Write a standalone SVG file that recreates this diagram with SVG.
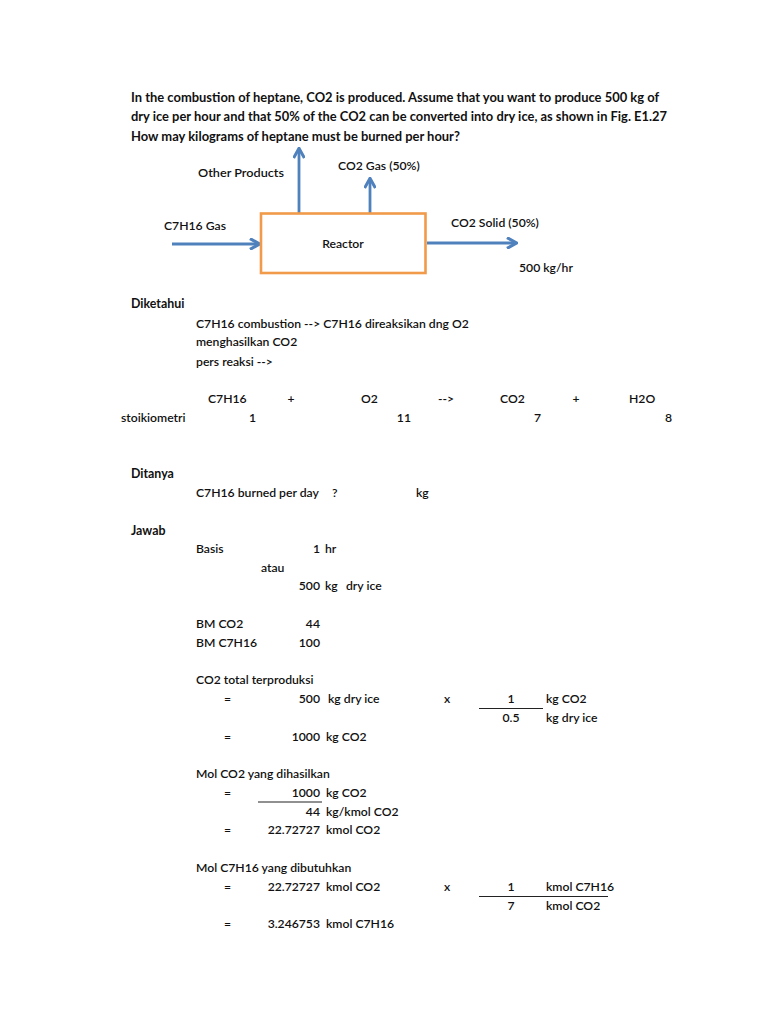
<svg xmlns="http://www.w3.org/2000/svg" width="768" height="1024" viewBox="0 0 768 1024">
<style>
text{font-family:Lato,"Open Sans","Liberation Sans",sans-serif;font-size:12.2px;fill:#111;font-weight:600}
.b{font-weight:700;font-size:12.95px}
.h{font-weight:700;font-size:12.4px}
.e{text-anchor:end}
.m{text-anchor:middle}
.flow{stroke:#4f81bd;stroke-width:2.8;fill:none}
.rule{stroke:#222;stroke-width:1.2}
</style>
<defs>
<marker id="ah" viewBox="0 0 10 10" refX="8.5" refY="5" markerWidth="4.600" markerHeight="4.600" orient="auto" markerUnits="strokeWidth"><path d="M1.500 0.8L9 5L1.500 9.2" fill="none" stroke="#4f81bd" stroke-width="2.400"/></marker>
</defs>
<rect width="768" height="1024" fill="#fff"/>
<g id="problem">
<text class="b" x="131" y="102">In the combustion of heptane, CO2 is produced. Assume that you want to produce 500 kg of</text>
<text class="b" x="131" y="121" textLength="536" lengthAdjust="spacingAndGlyphs">dry ice per hour and that 50% of the CO2 can be converted into dry ice, as shown in Fig. E1.27</text>
<text class="b" x="131" y="141">How may kilograms of heptane must be burned per hour?</text>
</g>
<g id="connectors">
<path class="flow" marker-end="url(#ah)" d="M172 244H259"/>
<path class="flow" marker-end="url(#ah)" d="M427 243H516"/>
<path class="flow" marker-end="url(#ah)" d="M299 213V149"/>
<path class="flow" marker-end="url(#ah)" d="M370 213V179"/>
</g>
<g id="reactor">
<rect x="261" y="213.500" width="164.500" height="59.500" fill="#fff" stroke="#f09a4a" stroke-width="2.600"/>
<text class="m" x="343" y="248">Reactor</text>
</g>
<g id="labels">
<text x="198" y="177" textLength="86" lengthAdjust="spacingAndGlyphs">Other Products</text>
<text x="338" y="170">CO2 Gas (50%)</text>
<text x="164" y="230">C7H16 Gas</text>
<text x="451" y="227">CO2 Solid (50%)</text>
<text x="519" y="272">500 kg/hr</text>
</g>
<g id="given">
<text class="h" x="131" y="308">Diketahui</text>
<text x="196" y="328">C7H16 combustion --&gt; C7H16 direaksikan dng O2</text>
<text x="196" y="346">menghasilkan CO2</text>
<text x="196" y="366">pers reaksi --&gt;</text>
<text x="208" y="403">C7H16</text>
<text class="m" x="291" y="403">+</text>
<text x="361" y="403">O2</text>
<text x="438" y="403">--&gt;</text>
<text x="500" y="403">CO2</text>
<text class="m" x="576" y="403">+</text>
<text x="629" y="403">H2O</text>
<text x="121" y="422">stoikiometri</text>
<text class="e" x="256" y="422">1</text>
<text class="e" x="411" y="422">11</text>
<text class="e" x="541" y="422">7</text>
<text class="e" x="672" y="422">8</text>
</g>
<g id="asked">
<text class="h" x="131" y="478">Ditanya</text>
<text x="196" y="497">C7H16 burned per day</text>
<text x="332" y="497">?</text>
<text x="416" y="497">kg</text>
</g>
<g id="answer">
<text class="h" x="131" y="535">Jawab</text>
<text x="196" y="553">Basis</text>
<text class="e" x="320" y="553">1</text>
<text x="325" y="553">hr</text>
<text x="261" y="572">atau</text>
<text class="e" x="320" y="590">500</text>
<text x="325" y="590">kg</text>
<text x="346" y="590">dry ice</text>
<text x="196" y="628">BM CO2</text>
<text class="e" x="320" y="628">44</text>
<text x="196" y="647">BM C7H16</text>
<text class="e" x="320" y="647">100</text>
<text x="196" y="684">CO2 total terproduksi</text>
<text x="224" y="703">=</text>
<text class="e" x="320" y="703">500</text>
<text x="328" y="703">kg dry ice</text>
<text x="444" y="703">x</text>
<text class="m" x="511" y="703">1</text>
<text x="546" y="703">kg CO2</text>
<line class="rule" x1="479" y1="708.500" x2="543" y2="708.500"/>
<text class="m" x="511" y="722">0.5</text>
<text x="546" y="722">kg dry ice</text>
<text x="224" y="741">=</text>
<text class="e" x="320" y="741">1000</text>
<text x="326" y="741">kg CO2</text>
<text x="196" y="778">Mol CO2 yang dihasilkan</text>
<text x="224" y="797">=</text>
<text class="e" x="320" y="797">1000</text>
<text x="326" y="797">kg CO2</text>
<line class="rule" x1="258" y1="802" x2="322" y2="802"/>
<text class="e" x="320" y="816">44</text>
<text x="326" y="816">kg/kmol CO2</text>
<text x="224" y="834">=</text>
<text class="e" x="320" y="834">22.72727</text>
<text x="326" y="834">kmol CO2</text>
<text x="196" y="872">Mol C7H16 yang dibutuhkan</text>
<text x="224" y="891">=</text>
<text class="e" x="320" y="891">22.72727</text>
<text x="326" y="891">kmol CO2</text>
<text x="444" y="891">x</text>
<text class="m" x="511" y="891">1</text>
<text x="546" y="891">kmol C7H16</text>
<line class="rule" x1="479" y1="896.500" x2="608" y2="896.500"/>
<text class="m" x="511" y="910">7</text>
<text x="546" y="910">kmol CO2</text>
<text x="224" y="928">=</text>
<text class="e" x="320" y="928">3.246753</text>
<text x="326" y="928">kmol C7H16</text>
</g>
</svg>
